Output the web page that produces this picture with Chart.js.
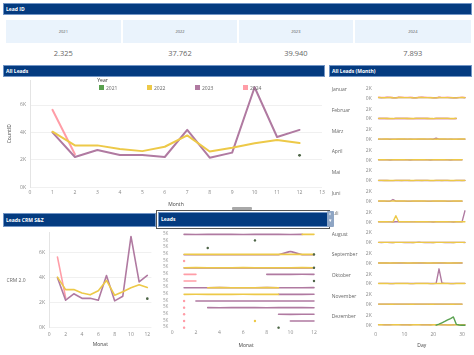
<!DOCTYPE html>
<html><head><meta charset="utf-8">
<script src="https://cdn.jsdelivr.net/npm/chart.js@4"></script>
<style>
html,body{margin:0;padding:0;background:#fff;}
body{width:474px;height:355px;position:relative;overflow:hidden;font-family:"Open Sans",sans-serif;}
.hdr{position:absolute;background:#043b80;border:1px solid #7396c6;box-sizing:border-box;color:#fff;font-weight:bold;font-size:5px;display:flex;align-items:center;padding-left:2px;white-space:nowrap;}
.kpi{position:absolute;top:20px;height:22.7px;background:#eaf3fc;color:#555;font-size:4px;display:flex;align-items:center;justify-content:center;}
.kval{position:absolute;top:47.5px;height:10px;color:#666;font-size:7.5px;display:flex;align-items:center;justify-content:center;}
canvas{position:absolute;}
.lg{position:absolute;font-size:5px;color:#666;line-height:6px;white-space:nowrap;}
.lgbox{position:absolute;width:5.3px;height:5.3px;}
</style></head>
<body>
<div class="hdr" style="left:3px;top:3px;width:469px;height:11.5px">Lead ID</div>
<div id="kpis"></div>
<div class="hdr" style="left:3px;top:65px;width:322px;height:12px">All Leads</div>
<div class="hdr" style="left:329px;top:65px;width:143px;height:12px">All Leads (Month)</div>
<canvas id="cMain" width="326" height="136" style="left:0;top:78px"></canvas>
<div id="legend"></div>
<canvas id="cMonth" width="148" height="277" style="left:326px;top:78px"></canvas>
<div class="hdr" style="left:3px;top:213px;width:153px;height:14px">Leads CRM S&amp;Z</div>
<div style="position:absolute;left:156px;top:210px;width:174px;height:18.5px;border:1px solid #555;box-sizing:border-box;"></div>
<div class="hdr" style="left:158px;top:212px;width:170px;height:14.5px">Leads</div>
<canvas id="cCrm" width="156" height="127" style="left:0;top:228px"></canvas>
<canvas id="cLeads" width="173" height="127" style="left:157px;top:228px"></canvas>
<div style="position:absolute;left:232px;top:206.5px;width:20px;height:3.5px;background:#a8a8a8;border-radius:1px;"></div>
<div style="position:absolute;left:326.5px;top:211px;width:7px;height:15.5px;background:#8ea5c4;border-radius:1px;color:#fff;font-size:5px;line-height:6px;text-align:center;">×<br>▾</div>
<script>
// ---------- data ----------
const _ = null;
const kpiYears = ['2021','2022','2023','2024'];
const kpiTotals = [2325, 37762, 39940, 7893];

const yearLabels = ['2021','2022','2023','2024'];
const yearColors = ['#59a14f','#edc948','#b07aa1','#ff9da7'];
const dotColor = '#4f6549';

const months = [1,2,3,4,5,6,7,8,9,10,11,12];
const leads2021 = [_,_,_,_,_,_,_,_,_,_,_,2325];
const leads2022 = [4050,3050,3050,2780,2630,2950,3780,2600,2880,3200,3440,3220];
const leads2023 = [4000,2200,2710,2350,2350,2200,4180,2150,2520,7300,3660,4180];
const leads2024 = [5650,2400,_,_,_,_,_,_,_,_,_,_];

const monthTicks = [0,1,2,3,4,5,6,7,8,9,10,11,12,13];
const evenMonthTicks = [0,2,4,6,8,10,12];
const countTicks = [0,2000,4000,6000];
const crmLabels = ['CRM 2.0'];

// Leads panel: 15 rows
const leadRowTicks = [5000];
const leadRows2021 = [
 [_,_,_,_,_,_,_,_,_,_,_,_],
 [_,_,_,_,_,_,5000,_,_,_,_,_],
 [_,_,3500,_,_,_,_,_,_,_,_,_],
 [_,_,_,_,_,_,_,_,_,_,_,4000],
 [_,_,_,_,_,_,_,_,_,_,_,_],
 [_,_,_,_,_,_,_,_,_,_,_,4000],
 [_,_,_,_,_,_,_,_,_,_,_,_],
 [_,_,_,_,_,_,_,_,_,_,_,4000],
 [_,_,_,_,_,_,_,_,_,_,_,_],
 [_,_,_,_,_,_,_,_,_,_,_,_],
 [_,_,_,_,_,_,_,_,_,_,_,_],
 [_,_,_,_,_,_,_,_,_,_,_,_],
 [_,_,_,_,_,_,_,_,_,_,_,_],
 [_,_,_,_,_,_,_,_,_,_,_,_],
 [_,_,_,_,_,_,_,_,4000,_,_,_]
];
const leadRows2022 = [
 [_,_,_,_,_,_,_,_,_,_,4000,4050],
 [_,_,_,_,_,_,_,_,_,_,_,_],
 [_,_,_,_,_,_,_,_,_,_,_,_],
 [4100,4000,4050,4000,3950,4000,4050,4000,3950,4000,4050,4000],
 [_,_,_,_,_,_,_,_,_,_,_,_],
 [4000,4050,4000,3950,4000,4050,4000,4000,3950,4000,4050,4000],
 [_,_,_,_,_,_,_,_,_,_,_,_],
 [_,_,_,_,_,_,_,_,_,_,_,_],
 [_,_,4000,4050,4000,3950,4000,4050,4000,_,_,_],
 [4000,4050,4000,3950,4000,4050,4000,4000,3950,_,_,_],
 [_,_,_,_,_,_,_,_,_,_,_,_],
 [_,_,_,_,_,_,_,_,_,_,_,_],
 [_,_,_,_,_,_,_,_,_,_,_,_],
 [_,_,_,_,_,_,4000,_,_,_,_,_],
 [_,_,_,_,_,_,_,_,_,_,_,_]
];
const leadRows2023 = [
 [4000,3950,4000,4050,4000,3950,4000,4050,4000,3950,4000,_],
 [_,_,_,_,_,_,_,_,_,_,_,_],
 [_,_,_,_,_,_,_,_,_,_,_,_],
 [3400,3350,3400,3450,3400,3350,3400,3450,3400,8500,3400,3350],
 [_,_,_,_,_,_,_,_,_,_,_,_],
 [3600,3650,3600,3550,3600,3650,3600,3600,3550,3600,3650,3600],
 [_,_,_,_,_,_,_,4000,3950,4000,4050,4000],
 [_,_,_,_,_,_,_,_,_,_,_,_],
 [4000,3950,4000,4050,4000,3950,4000,4050,4000,3950,4000,4050],
 [_,_,_,_,_,_,_,_,4000,3950,4000,4050],
 [_,4000,3950,4000,4050,4000,3950,4000,4050,4000,3950,4000],
 [_,_,4000,3950,4000,4050,4000,3950,4000,4050,4000,3950],
 [_,_,_,_,_,_,_,_,4000,3950,4000,4050],
 [_,_,_,_,_,_,_,_,_,4000,3950,4000],
 [_,_,_,_,_,_,_,_,_,_,_,_]
];
const leadRows2024 = [
 [_,_,_,_,_,_,_,_,_,_,_,_],
 [_,_,_,_,_,_,_,_,_,_,_,_],
 [_,_,_,_,_,_,_,_,_,_,_,_],
 [_,_,_,_,_,_,_,_,_,_,_,_],
 [4000,_,_,_,_,_,_,_,_,_,_,_],
 [_,_,_,_,_,_,_,_,_,_,_,_],
 [4000,3950,_,_,_,_,_,_,_,_,_,_],
 [4000,4000,_,_,_,_,_,_,_,_,_,_],
 [_,_,_,_,_,_,_,_,_,_,_,_],
 [_,_,_,_,_,_,_,_,_,_,_,_],
 [4000,_,_,_,_,_,_,_,_,_,_,_],
 [4000,_,_,_,_,_,_,_,_,_,_,_],
 [4000,_,_,_,_,_,_,_,_,_,_,_],
 [4000,_,_,_,_,_,_,_,_,_,_,_],
 [4000,_,_,_,_,_,_,_,_,_,_,_]
];

// All Leads (Month): daily counts
const monthNames = ['Januar','Februar','März','April','Mai','Juni','Juli','August','September','Oktober','November','Dezember'];
const dayTicks = [0,10,20,30];
const rowCountTicks = [0,2000];
const daily2022 = [
 [150,140,120,135,160,110,90,145,150,130,125,140,100,85,150,145,135,140,120,95,90,150,140,135,125,130,100,90,140,150,130],
 [110,105,120,95,80,70,115,120,110,105,100,90,75,120,115,110,105,100,80,70,120,115,110,115,105,85,75,110],
 [100,95,110,105,90,70,65,105,110,100,95,100,75,70,110,105,100,95,100,80,70,110,105,100,95,100,75,65,105,110,100],
 [95,90,85,70,65,100,95,90,95,100,75,70,95,100,90,85,95,70,65,100,95,90,95,100,70,65,95,100,90,85],
 [85,90,80,75,60,55,90,85,80,85,90,65,60,85,90,80,85,90,60,55,85,90,80,85,90,60,55,85,90,80,85],
 [100,95,90,75,70,105,100,95,100,105,75,70,100,105,95,90,100,75,70,105,100,95,100,105,75,70,100,105,95,90],
 [85,90,80,75,60,55,1300,85,80,85,90,65,60,85,90,80,85,90,60,55,85,90,80,85,90,60,55,85,90,80,85],
 [85,80,90,85,70,60,85,90,85,80,90,70,60,85,90,85,80,90,70,60,85,90,85,80,90,70,60,85,90,85,80],
 [95,100,90,85,70,100,95,100,105,95,75,70,100,95,100,105,95,75,70,100,95,100,105,95,75,70,100,95,100,105],
 [105,100,110,105,90,80,105,110,105,100,110,90,80,105,110,105,100,110,90,80,105,110,105,100,110,90,80,105,110,105,100],
 [115,110,120,115,95,90,115,120,115,110,120,95,90,115,120,115,110,120,95,90,115,120,115,110,120,95,90,115,120,115],
 [105,110,100,95,85,110,105,110,100,95,85,80,110,105,110,100,95,85,80,110,105,110,100,95,80,75,100,105,110,100,95]
];
const daily2023 = [
 [140,120,130,145,135,90,80,150,140,135,130,125,95,80,140,150,130,125,140,90,85,145,135,130,140,120,95,85,130,140,120],
 [85,80,90,75,60,55,85,90,80,85,75,65,55,90,85,80,85,75,60,50,90,85,80,85,80,60,55,80],
 [85,80,90,85,70,55,50,90,85,80,85,80,60,55,90,85,80,85,80,60,280,90,85,80,85,80,60,55,90,85,80],
 [80,75,70,60,55,85,80,75,80,85,60,55,80,85,75,70,80,60,55,85,80,75,80,85,60,55,80,85,75,70],
 [75,80,70,65,50,45,80,75,70,75,80,55,50,75,80,70,75,80,50,45,75,80,70,75,80,50,45,75,80,70,75],
 [75,70,65,55,50,400,75,70,75,80,55,50,75,80,70,65,75,55,50,80,75,70,75,80,55,50,75,80,70,65],
 [65,70,60,55,45,40,70,65,60,65,70,50,45,65,70,60,65,70,45,40,65,70,60,65,70,45,40,65,70,60,2300],
 [70,65,75,70,55,50,70,75,70,65,75,55,50,70,130,70,65,75,55,50,70,75,70,65,75,55,50,70,75,70,65],
 [85,90,80,75,60,85,90,85,90,85,65,60,85,90,85,90,85,65,60,85,90,85,90,85,65,60,85,90,85,90],
 [140,135,145,140,110,100,140,145,140,135,145,110,100,140,145,140,135,145,110,100,150,3100,250,135,145,110,100,140,145,140,135],
 [120,125,115,120,100,95,120,125,120,125,115,100,95,120,125,120,125,115,100,95,120,125,120,125,115,100,95,120,125,120],
 [135,140,130,125,110,140,135,140,130,125,110,105,140,135,140,130,125,110,105,140,135,140,130,125,100,95,130,135,140,130,125]
];
const daily2024 = [
 [200,190,180,210,195,150,140,220,200,190,185,205,150,130,210,200,195,190,185,140,130,200,190,185,195,180,140,130,190,200,180],
 [90,85,95,80,65,60,90,95,85,90,80,70,60,95,90,85,90,80,65,55,95,90,85,90,85,65,60,85]
];
const daily2021Dez = [_,_,_,_,_,_,_,_,_,_,_,_,_,_,_,_,_,_,_,_,30,250,520,800,1100,1380,1700,200,60,30,20];

// ---------- html parts ----------
const fmtDE = n => String(n).replace(/\B(?=(\d{3})+(?!\d))/g, '.');
const kpiBox = [[6,114.7],[123,114],[239,113.7],[355,115.7]];
let kh = '';
kpiYears.forEach((y,i) => {
  kh += `<div class="kpi" style="left:${kpiBox[i][0]}px;width:${kpiBox[i][1]}px">${y}</div>`;
  kh += `<div class="kval" style="left:${kpiBox[i][0]}px;width:${kpiBox[i][1]}px">${fmtDE(kpiTotals[i])}</div>`;
});
document.getElementById('kpis').innerHTML = kh;

let lh = `<div class="lg" style="left:97.3px;top:76.7px;color:#333">Year</div>`;
yearLabels.forEach((y,i) => {
  const x = 98.7 + i*48;
  lh += `<div class="lgbox" style="left:${x}px;top:85px;background:${yearColors[i]}"></div>`;
  lh += `<div class="lg" style="left:${x+7.3}px;top:84.6px">${y}</div>`;
});
document.getElementById('legend').innerHTML = lh;

// ---------- chart helpers ----------
Chart.defaults.font.family = "'Open Sans', 'DejaVu Sans', sans-serif";
Chart.defaults.color = '#888';
Chart.defaults.animation = false;
Chart.defaults.events = [];
Chart.defaults.plugins.legend.display = false;
Chart.defaults.plugins.tooltip.enabled = false;

const kfmt = v => (v/1000) + 'K';
const setTicks = arr => s => { s.ticks = arr.map(v => ({value: v})); };
const fit = (w, h) => s => {
  if (w != null) s.width = w;
  if (h != null) s.height = h;
  s.paddingTop = 0; s.paddingBottom = 0; s.paddingLeft = 0; s.paddingRight = 0;
};
const isoRadius = r => ctx => {
  const d = ctx.dataset.data, i = ctx.dataIndex;
  const has = j => d[j] != null && d[j].y != null;
  return has(i) && !has(i-1) && !has(i+1) ? r : 0;
};
function lineDs(label, xs, ys, color, axis, width, r, pc) {
  return {
    label, data: ys.map((y, i) => ({x: xs[i], y: y})),
    borderColor: color, backgroundColor: pc || color, pointBackgroundColor: pc || color,
    borderWidth: width, pointRadius: isoRadius(r), pointBorderWidth: 0, pointHoverRadius: 0,
    yAxisID: axis, borderJoinStyle: 'round', borderCapStyle: 'round', spanGaps: false
  };
}
const tickFont = {size: 5};
const titleFont = {size: 5};

// ---------- main chart ----------
new Chart(document.getElementById('cMain'), {
  type: 'line',
  data: {datasets: [
    lineDs(yearLabels[0], months, leads2021, yearColors[0], 'y', 2, 1.4, dotColor),
    lineDs(yearLabels[1], months, leads2022, yearColors[1], 'y', 2, 1.4),
    lineDs(yearLabels[2], months, leads2023, yearColors[2], 'y', 2, 1.4),
    lineDs(yearLabels[3], months, leads2024, yearColors[3], 'y', 2, 1.4)
  ]},
  options: {
    responsive: false,
    layout: {padding: {top: 2.4, right: 4, left: 0, bottom: 0}},
    scales: {
      x: {type: 'linear', min: 0, max: 13, afterBuildTicks: setTicks(monthTicks), afterFit: fit(null, 26.9),
          grid: {display: false, drawTicks: false}, border: {display: false},
          ticks: {font: tickFont, padding: 2.9, color: '#888'},
          title: {display: true, text: 'Month', font: titleFont, color: '#444', padding: {top: 0, bottom: 6}}},
      y: {type: 'linear', min: 0, max: 7800, afterBuildTicks: setTicks(countTicks), afterFit: fit(30, null),
          grid: {color: '#f0f0f0', drawTicks: false}, border: {color: '#e4e4e4'},
          ticks: {callback: kfmt, padding: 4, font: tickFont, color: '#888'},
          title: {display: true, text: 'CountID', font: titleFont, color: '#444', padding: {top: 7, bottom: 0}}}
    }
  }
});

// ---------- CRM chart ----------
new Chart(document.getElementById('cCrm'), {
  type: 'line',
  data: {datasets: [
    lineDs(yearLabels[0], months, leads2021, yearColors[0], 'y', 1.6, 1.3, dotColor),
    lineDs(yearLabels[1], months, leads2022, yearColors[1], 'y', 1.6, 1.3),
    lineDs(yearLabels[2], months, leads2023, yearColors[2], 'y', 1.6, 1.3),
    lineDs(yearLabels[3], months, leads2024, yearColors[3], 'y', 1.6, 1.3)
  ]},
  options: {
    responsive: false,
    layout: {padding: {top: 4.7, right: 4.6, left: 6.5, bottom: 0}},
    scales: {
      x: {type: 'linear', min: 0, max: 12.5, afterBuildTicks: setTicks(evenMonthTicks), afterFit: fit(null, 27.3),
          grid: {display: false, drawTicks: false}, border: {display: false},
          ticks: {font: tickFont, padding: 4.3, color: '#888'},
          title: {display: true, text: 'Monat', font: titleFont, color: '#444', padding: {top: 0, bottom: 7}}},
      lab: {type: 'category', position: 'left', weight: 10, labels: crmLabels, min: 0, max: 0, offset: true,
          afterFit: fit(19.5, null), grid: {display: false, drawTicks: false}, border: {display: false},
          ticks: {crossAlign: 'far', font: tickFont, color: '#666', padding: 0}},
      y: {type: 'linear', position: 'left', weight: 0, min: 0, max: 7600, afterBuildTicks: setTicks(countTicks), afterFit: fit(23.3, null),
          grid: {color: '#f0f0f0', drawTicks: false}, border: {color: '#e4e4e4'},
          ticks: {callback: kfmt, padding: 4.3, font: tickFont, color: '#888'}}
    }
  }
});

// ---------- Leads (rows) chart ----------
const leadScales = {
  x: {type: 'linear', min: 0, max: 12.5, afterBuildTicks: setTicks(evenMonthTicks), afterFit: fit(null, 24.7),
      grid: {display: false, drawTicks: false}, border: {display: false},
      ticks: {font: tickFont, padding: -1, color: '#888'},
      title: {display: true, text: 'Monat', font: titleFont, color: '#444', padding: {top: 0, bottom: 6}}}
};
const leadDatasets = [];
leadRows2022.forEach((row, r) => {
  const id = 'r' + r;
  leadScales[id] = {type: 'linear', position: 'left', stack: 'rows', stackWeight: 1, weight: 15 - r,
    min: 0, max: 10000, afterBuildTicks: setTicks(leadRowTicks), afterFit: fit(15.3, null),
    grid: {display: false, drawTicks: false}, border: {display: false},
    ticks: {callback: kfmt, padding: 4, font: {size: 4.5}, color: '#999'}};
  leadDatasets.push(lineDs(yearLabels[0], months, leadRows2021[r], yearColors[0], id, 1.6, 1.2, dotColor));
  leadDatasets.push(lineDs(yearLabels[1], months, leadRows2022[r], yearColors[1], id, 1.6, 1.2));
  leadDatasets.push(lineDs(yearLabels[2], months, leadRows2023[r], yearColors[2], id, 1.6, 1.2));
  leadDatasets.push(lineDs(yearLabels[3], months, leadRows2024[r], yearColors[3], id, 1.6, 1.2));
});
new Chart(document.getElementById('cLeads'), {
  type: 'line',
  data: {datasets: leadDatasets},
  options: {responsive: false, layout: {padding: {top: 2.4, right: 10.1, left: 0, bottom: 0}}, scales: leadScales}
});

// ---------- All Leads (Month) chart ----------
const monthScales = {
  x: {type: 'linear', min: 0, max: 32, afterBuildTicks: setTicks(dayTicks), afterFit: fit(null, 27.7),
      grid: {display: false, drawTicks: false}, border: {display: false},
      ticks: {font: tickFont, padding: 4.7, color: '#888'},
      title: {display: true, text: 'Day', font: titleFont, color: '#444', padding: {top: 0, bottom: 6.3}}},
  lab: {type: 'category', position: 'left', weight: 100, labels: monthNames, min: 0, max: 11, offset: true,
      afterFit: fit(28, null), grid: {display: false, drawTicks: false}, border: {display: false},
      ticks: {crossAlign: 'far', font: tickFont, color: '#666', padding: 0, autoSkip: false}}
};
const monthDatasets = [];
monthNames.forEach((m, k) => {
  const id = 'm' + k;
  monthScales[id] = {type: 'linear', position: 'left', stack: 'months', stackWeight: 1, weight: 12 - k,
    min: -400, max: 3800, afterBuildTicks: setTicks(rowCountTicks), afterFit: fit(16, null),
    grid: {display: false, drawTicks: false}, border: {display: false},
    ticks: {callback: kfmt, padding: 4, font: tickFont, color: '#888'}};
  const days = daily2022[k].map((v, i) => i + 1);
  if (k === 11) monthDatasets.push(lineDs(yearLabels[0], daily2021Dez.map((v, i) => i + 1), daily2021Dez, yearColors[0], id, 1.4, 1));
  monthDatasets.push(lineDs(yearLabels[1], days, daily2022[k], yearColors[1], id, 1.4, 1));
  monthDatasets.push(lineDs(yearLabels[2], daily2023[k].map((v, i) => i + 1), daily2023[k], yearColors[2], id, 1.4, 1));
  if (daily2024[k]) monthDatasets.push(lineDs(yearLabels[3], daily2024[k].map((v, i) => i + 1), daily2024[k], yearColors[3], id, 1.4, 1));
});
new Chart(document.getElementById('cMonth'), {
  type: 'line',
  data: {datasets: monthDatasets},
  options: {responsive: false, layout: {padding: {top: 1.6, right: 6.2, left: 5.7, bottom: 0}}, scales: monthScales}
});
</script>
</body></html>
